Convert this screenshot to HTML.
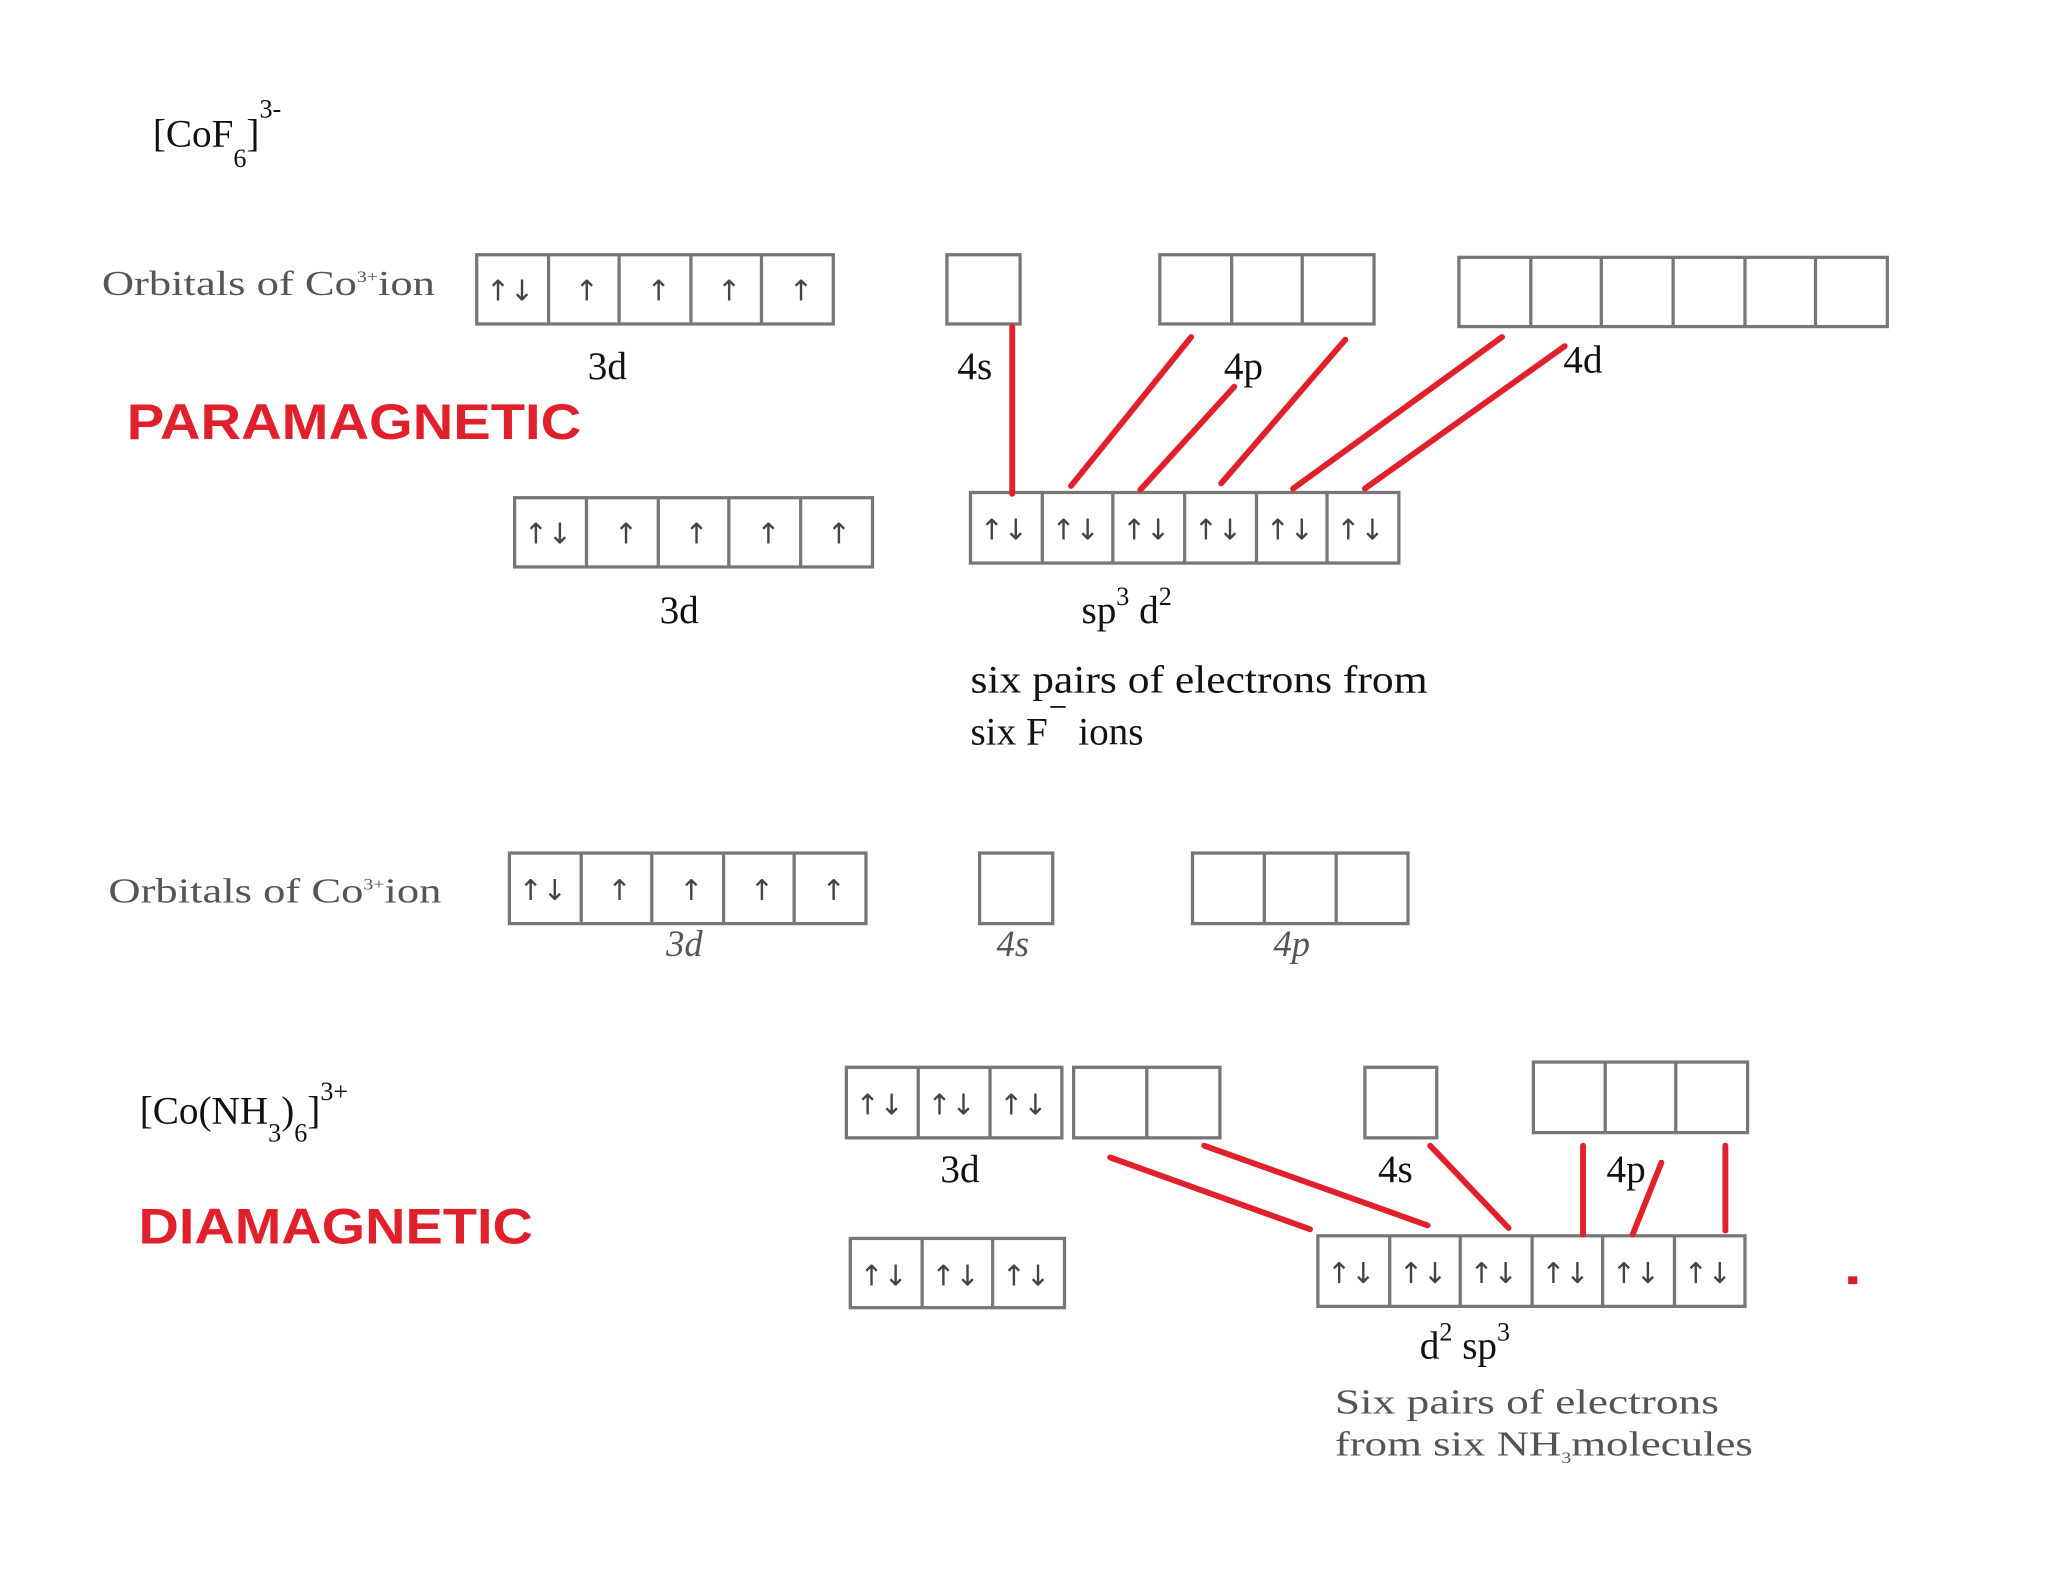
<!DOCTYPE html>
<html><head><meta charset="utf-8"><style>
html,body{margin:0;padding:0;background:#fff;}
svg{display:block}
.s{font-family:"Liberation Serif",serif;fill:#111}
.g{font-family:"Liberation Serif",serif;fill:#555}
.r{font-family:"Liberation Sans",sans-serif;font-weight:bold;fill:#e0202a}
.b{fill:#fff;stroke:#777;stroke-width:2.5}
.a{font-family:"DejaVu Sans",sans-serif;fill:#444;font-size:22px}
.l{stroke:#e0202a;stroke-width:4.5;stroke-linecap:round}
</style></head><body>
<svg width="2048" height="1582" viewBox="0 0 1568 1211" preserveAspectRatio="none" xmlns="http://www.w3.org/2000/svg">
<rect width="1568" height="1211" fill="#fff"/>
<text class="s" x="117" y="112" font-size="30">[CoF<tspan font-size="20" dy="16">6</tspan><tspan dy="-16">]</tspan><tspan font-size="20" dy="-22">3-</tspan></text>
<text class="g" x="78" y="226" font-size="27" textLength="255" lengthAdjust="spacingAndGlyphs">Orbitals of Co<tspan font-size="12" dy="-10">3+</tspan><tspan dy="10">ion</tspan></text>
<rect class="b" x="365" y="195" width="273" height="53"/>
<line stroke="#777" stroke-width="2.5" x1="420" y1="195" x2="420" y2="248"/><line stroke="#777" stroke-width="2.5" x1="474" y1="195" x2="474" y2="248"/><line stroke="#777" stroke-width="2.5" x1="529" y1="195" x2="529" y2="248"/><line stroke="#777" stroke-width="2.5" x1="583" y1="195" x2="583" y2="248"/>
<text class="a" x="372" y="230">↑↓</text><text class="a" x="440" y="230">↑</text><text class="a" x="495" y="230">↑</text><text class="a" x="549" y="230">↑</text><text class="a" x="604" y="230">↑</text>
<rect class="b" x="725" y="195" width="56" height="53"/>
<rect class="b" x="888" y="195" width="164" height="53"/>
<line stroke="#777" stroke-width="2.5" x1="943" y1="195" x2="943" y2="248"/><line stroke="#777" stroke-width="2.5" x1="997" y1="195" x2="997" y2="248"/>
<rect class="b" x="1117" y="197" width="328" height="53"/>
<line stroke="#777" stroke-width="2.5" x1="1172" y1="197" x2="1172" y2="250"/><line stroke="#777" stroke-width="2.5" x1="1226" y1="197" x2="1226" y2="250"/><line stroke="#777" stroke-width="2.5" x1="1281" y1="197" x2="1281" y2="250"/><line stroke="#777" stroke-width="2.5" x1="1336" y1="197" x2="1336" y2="250"/><line stroke="#777" stroke-width="2.5" x1="1390" y1="197" x2="1390" y2="250"/>
<text class="s" x="450" y="290" font-size="30">3d</text>
<text class="s" x="733" y="290" font-size="30">4s</text>
<text class="s" x="937" y="290" font-size="30">4p</text>
<text class="s" x="1197" y="285" font-size="30">4d</text>
<text class="r" x="97" y="336" font-size="38" textLength="348" lengthAdjust="spacingAndGlyphs">PARAMAGNETIC</text>
<rect class="b" x="394" y="381" width="274" height="53"/>
<line stroke="#777" stroke-width="2.5" x1="449" y1="381" x2="449" y2="434"/><line stroke="#777" stroke-width="2.5" x1="504" y1="381" x2="504" y2="434"/><line stroke="#777" stroke-width="2.5" x1="558" y1="381" x2="558" y2="434"/><line stroke="#777" stroke-width="2.5" x1="613" y1="381" x2="613" y2="434"/>
<text class="a" x="401" y="416">↑↓</text><text class="a" x="470" y="416">↑</text><text class="a" x="524" y="416">↑</text><text class="a" x="579" y="416">↑</text><text class="a" x="633" y="416">↑</text>
<rect class="b" x="743" y="377" width="328" height="54"/>
<line stroke="#777" stroke-width="2.5" x1="798" y1="377" x2="798" y2="431"/><line stroke="#777" stroke-width="2.5" x1="852" y1="377" x2="852" y2="431"/><line stroke="#777" stroke-width="2.5" x1="907" y1="377" x2="907" y2="431"/><line stroke="#777" stroke-width="2.5" x1="962" y1="377" x2="962" y2="431"/><line stroke="#777" stroke-width="2.5" x1="1016" y1="377" x2="1016" y2="431"/>
<text class="a" x="750" y="413">↑↓</text><text class="a" x="805" y="413">↑↓</text><text class="a" x="859" y="413">↑↓</text><text class="a" x="914" y="413">↑↓</text><text class="a" x="969" y="413">↑↓</text><text class="a" x="1023" y="413">↑↓</text>
<text class="s" x="505" y="477" font-size="30">3d</text>
<text class="s" x="828" y="477" font-size="30">sp<tspan font-size="20" dy="-14">3</tspan><tspan dy="14"> d</tspan><tspan font-size="20" dy="-14">2</tspan></text>
<text class="s" x="743" y="530" font-size="30" textLength="350" lengthAdjust="spacingAndGlyphs">six pairs of electrons from</text>
<text class="s" x="743" y="570" font-size="30">six F<tspan dy="-14">⁻</tspan><tspan dy="14"> ions</tspan></text>
<line class="l" x1="775" y1="250" x2="775" y2="378"/>
<line class="l" x1="912" y1="258" x2="820" y2="372"/>
<line class="l" x1="945" y1="296" x2="873" y2="375"/>
<line class="l" x1="1030" y1="260" x2="935" y2="370"/>
<line class="l" x1="1150" y1="258" x2="990" y2="374"/>
<line class="l" x1="1198" y1="265" x2="1045" y2="374"/>
<text class="g" x="83" y="691" font-size="27" textLength="255" lengthAdjust="spacingAndGlyphs">Orbitals of Co<tspan font-size="12" dy="-10">3+</tspan><tspan dy="10">ion</tspan></text>
<rect class="b" x="390" y="653" width="273" height="54"/>
<line stroke="#777" stroke-width="2.5" x1="445" y1="653" x2="445" y2="707"/><line stroke="#777" stroke-width="2.5" x1="499" y1="653" x2="499" y2="707"/><line stroke="#777" stroke-width="2.5" x1="554" y1="653" x2="554" y2="707"/><line stroke="#777" stroke-width="2.5" x1="608" y1="653" x2="608" y2="707"/>
<text class="a" x="397" y="689">↑↓</text><text class="a" x="465" y="689">↑</text><text class="a" x="520" y="689">↑</text><text class="a" x="574" y="689">↑</text><text class="a" x="629" y="689">↑</text>
<rect class="b" x="750" y="653" width="56" height="54"/>
<rect class="b" x="913" y="653" width="165" height="54"/>
<line stroke="#777" stroke-width="2.5" x1="968" y1="653" x2="968" y2="707"/><line stroke="#777" stroke-width="2.5" x1="1023" y1="653" x2="1023" y2="707"/>
<text class="g" x="510" y="732" font-size="28" font-style="italic">3d</text>
<text class="g" x="763" y="732" font-size="28" font-style="italic">4s</text>
<text class="g" x="975" y="732" font-size="28" font-style="italic">4p</text>
<text class="s" x="107" y="860" font-size="30">[Co(NH<tspan font-size="20" dy="14">3</tspan><tspan dy="-14">)</tspan><tspan font-size="20" dy="14">6</tspan><tspan dy="-14">]</tspan><tspan font-size="20" dy="-18">3+</tspan></text>
<text class="r" x="106" y="952" font-size="38" textLength="302" lengthAdjust="spacingAndGlyphs">DIAMAGNETIC</text>
<rect class="b" x="648" y="817" width="165" height="54"/>
<line stroke="#777" stroke-width="2.5" x1="703" y1="817" x2="703" y2="871"/><line stroke="#777" stroke-width="2.5" x1="758" y1="817" x2="758" y2="871"/>
<text class="a" x="655" y="853">↑↓</text><text class="a" x="710" y="853">↑↓</text><text class="a" x="765" y="853">↑↓</text>
<rect class="b" x="822" y="817" width="112" height="54"/>
<line stroke="#777" stroke-width="2.5" x1="878" y1="817" x2="878" y2="871"/>
<rect class="b" x="1045" y="817" width="55" height="54"/>
<rect class="b" x="1174" y="813" width="164" height="54"/>
<line stroke="#777" stroke-width="2.5" x1="1229" y1="813" x2="1229" y2="867"/><line stroke="#777" stroke-width="2.5" x1="1283" y1="813" x2="1283" y2="867"/>
<text class="s" x="720" y="905" font-size="30">3d</text>
<text class="s" x="1055" y="905" font-size="30">4s</text>
<text class="s" x="1230" y="905" font-size="30">4p</text>
<rect class="b" x="651" y="948" width="164" height="53"/>
<line stroke="#777" stroke-width="2.5" x1="706" y1="948" x2="706" y2="1001"/><line stroke="#777" stroke-width="2.5" x1="760" y1="948" x2="760" y2="1001"/>
<text class="a" x="658" y="984">↑↓</text><text class="a" x="713" y="984">↑↓</text><text class="a" x="767" y="984">↑↓</text>
<rect class="b" x="1009" y="946" width="327" height="54"/>
<line stroke="#777" stroke-width="2.5" x1="1064" y1="946" x2="1064" y2="1000"/><line stroke="#777" stroke-width="2.5" x1="1118" y1="946" x2="1118" y2="1000"/><line stroke="#777" stroke-width="2.5" x1="1173" y1="946" x2="1173" y2="1000"/><line stroke="#777" stroke-width="2.5" x1="1227" y1="946" x2="1227" y2="1000"/><line stroke="#777" stroke-width="2.5" x1="1282" y1="946" x2="1282" y2="1000"/>
<text class="a" x="1016" y="982">↑↓</text><text class="a" x="1071" y="982">↑↓</text><text class="a" x="1125" y="982">↑↓</text><text class="a" x="1180" y="982">↑↓</text><text class="a" x="1234" y="982">↑↓</text><text class="a" x="1289" y="982">↑↓</text>
<text class="s" x="1087" y="1040" font-size="30">d<tspan font-size="20" dy="-14">2</tspan><tspan dy="14"> sp</tspan><tspan font-size="20" dy="-14">3</tspan></text>
<text class="g" x="1022" y="1082" font-size="27" textLength="294" lengthAdjust="spacingAndGlyphs">Six pairs of electrons</text>
<text class="g" x="1022" y="1114" font-size="27" textLength="320" lengthAdjust="spacingAndGlyphs">from six NH<tspan font-size="12" dy="6">3</tspan><tspan dy="-6">molecules</tspan></text>
<line class="l" x1="850" y1="886" x2="1003" y2="941"/>
<line class="l" x1="922" y1="877" x2="1093" y2="938"/>
<line class="l" x1="1095" y1="877" x2="1155" y2="940"/>
<line class="l" x1="1212" y1="877" x2="1212" y2="945"/>
<line class="l" x1="1272" y1="890" x2="1250" y2="945"/>
<line class="l" x1="1321" y1="877" x2="1321" y2="942"/>
<rect x="1415" y="977" width="7" height="6" fill="#d0202a"/>
</svg>
</body></html>
